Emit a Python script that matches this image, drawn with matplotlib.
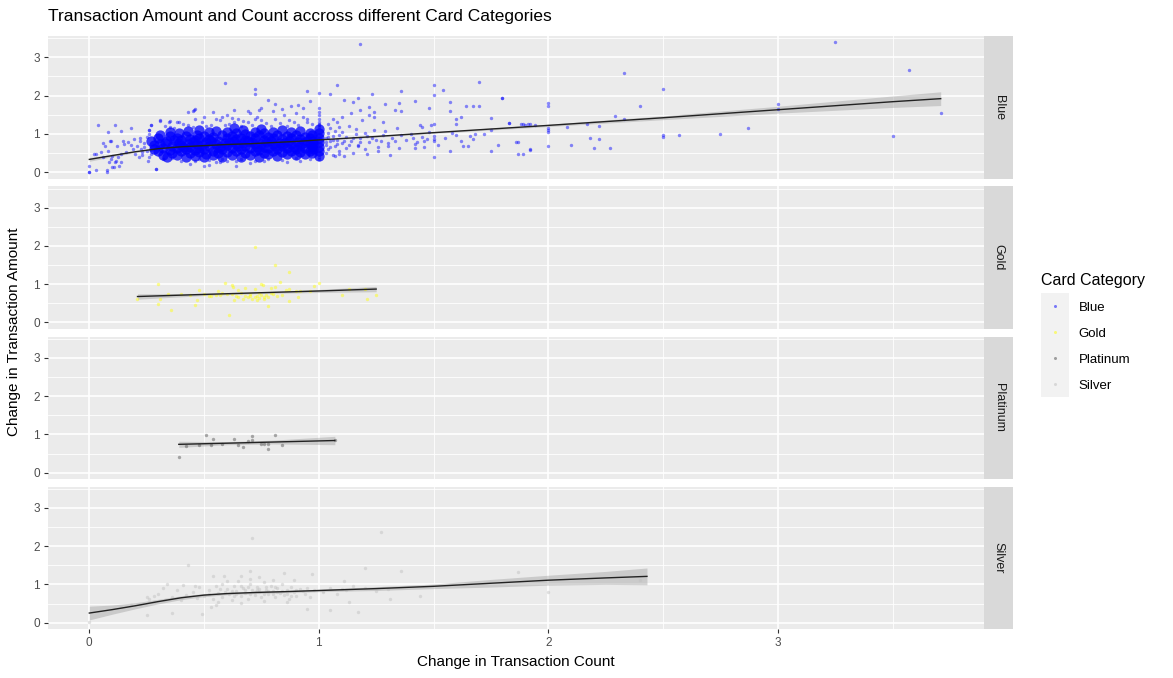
import matplotlib
matplotlib.use("Agg")
import matplotlib.pyplot as plt
from matplotlib.lines import Line2D
from matplotlib.patches import Rectangle
import numpy as np

plt.rcParams['font.family'] = ['Liberation Sans', 'DejaVu Sans']

categories = ['Blue', 'Gold', 'Platinum', 'Silver']

# dense middle of the Blue cloud (drawn with bigger, stronger markers)
blue_core = [
    (0.30, 0.55), (0.31, 0.72), (0.30, 0.88), (0.32, 0.45), (0.31, 0.98), (0.32, 0.63),
    (0.34, 0.40), (0.35, 0.58), (0.34, 0.80), (0.35, 0.95), (0.36, 0.68), (0.35, 1.05), (0.36, 0.50),
    (0.38, 0.44), (0.38, 0.62), (0.39, 0.76), (0.38, 0.90), (0.39, 1.02), (0.40, 0.54), (0.40, 0.85), (0.40, 0.70),
    (0.42, 0.40), (0.42, 0.60), (0.43, 0.74), (0.42, 0.95), (0.43, 1.07), (0.44, 0.50), (0.44, 0.86), (0.44, 0.66),
    (0.46, 0.42), (0.46, 0.58), (0.47, 0.72), (0.46, 0.84), (0.47, 0.98), (0.48, 0.64), (0.48, 0.52), (0.48, 0.90), (0.48, 1.10),
    (0.50, 0.38), (0.50, 0.60), (0.51, 0.78), (0.50, 0.94), (0.51, 0.48), (0.52, 0.68), (0.52, 0.86), (0.52, 1.04),
    (0.54, 0.44), (0.54, 0.56), (0.55, 0.74), (0.54, 0.92), (0.55, 1.08), (0.56, 0.64), (0.56, 0.82), (0.56, 0.50),
    (0.58, 0.40), (0.58, 0.60), (0.59, 0.76), (0.58, 0.98), (0.60, 0.52), (0.60, 0.70), (0.60, 0.88), (0.60, 1.06),
    (0.62, 0.44), (0.62, 0.62), (0.63, 0.80), (0.62, 0.94), (0.64, 0.56), (0.64, 0.72), (0.64, 1.02), (0.64, 0.86), (0.63, 1.14),
    (0.66, 0.40), (0.66, 0.60), (0.67, 0.76), (0.66, 0.90), (0.68, 0.50), (0.68, 0.68), (0.68, 0.84), (0.68, 1.00), (0.67, 1.10),
    (0.70, 0.44), (0.70, 0.62), (0.71, 0.78), (0.70, 0.94), (0.72, 0.54), (0.72, 0.72), (0.72, 0.88), (0.72, 1.06),
    (0.74, 0.40), (0.74, 0.58), (0.75, 0.74), (0.74, 0.96), (0.76, 0.50), (0.76, 0.66), (0.76, 0.84), (0.76, 1.02), (0.75, 1.12),
    (0.78, 0.46), (0.78, 0.62), (0.79, 0.80), (0.78, 0.92), (0.80, 0.56), (0.80, 0.72), (0.80, 0.88), (0.80, 1.06),
    (0.82, 0.42), (0.82, 0.60), (0.83, 0.76), (0.82, 0.98), (0.84, 0.52), (0.84, 0.68), (0.84, 0.86), (0.84, 1.10),
    (0.86, 0.48), (0.86, 0.64), (0.87, 0.80), (0.86, 0.94), (0.88, 0.56), (0.88, 0.72), (0.88, 0.90), (0.88, 1.04),
    (0.90, 0.44), (0.90, 0.60), (0.91, 0.78), (0.90, 0.96), (0.92, 0.52), (0.92, 0.68), (0.92, 0.86), (0.92, 1.08),
    (0.94, 0.48), (0.94, 0.64), (0.95, 0.80), (0.94, 0.92), (0.96, 0.56), (0.96, 0.72), (0.96, 0.88), (0.96, 1.02),
    (0.97, 0.50), (0.97, 0.66), (0.975, 0.82), (0.97, 0.96), (0.975, 0.74), (0.975, 0.60),
    (1.00, 0.42), (1.00, 0.54), (1.00, 0.66), (1.00, 0.78), (1.00, 0.90), (1.00, 1.02), (1.00, 1.12),
    (0.33, 0.75), (0.37, 0.85), (0.41, 0.65), (0.45, 0.78), (0.49, 0.70), (0.53, 0.80), (0.57, 0.66),
    (0.61, 0.78), (0.65, 0.68), (0.69, 0.80), (0.73, 0.66), (0.77, 0.78), (0.81, 0.68), (0.85, 0.76),
    (0.89, 0.66), (0.93, 0.76), (0.28, 0.70), (0.27, 0.82), (0.28, 0.60),
]

# everything else in Blue
blue_rest = [
    # top and bottom fringe of the cloud
    (0.33, 1.20), (0.37, 1.15), (0.41, 1.25), (0.45, 1.18), (0.49, 1.30), (0.53, 1.22), (0.57, 1.35),
    (0.61, 1.26), (0.65, 1.40), (0.69, 1.30), (0.73, 1.45), (0.77, 1.28), (0.81, 1.38), (0.85, 1.50),
    (0.89, 1.32), (0.93, 1.44), (0.97, 1.25), (0.50, 1.45), (0.60, 1.50), (0.70, 1.55), (0.80, 1.60),
    (0.90, 1.55), (0.55, 1.40), (0.75, 1.35), (0.95, 1.40), (0.38, 1.30), (0.46, 1.38), (0.66, 1.20),
    (0.86, 1.20), (0.62, 1.42), (0.84, 1.64), (0.74, 1.62), (0.93, 1.68),
    (0.35, 1.18), (0.43, 1.22), (0.51, 1.20), (0.59, 1.24), (0.63, 1.30), (0.67, 1.33), (0.71, 1.22),
    (0.79, 1.20), (0.83, 1.28), (0.87, 1.35), (0.91, 1.22), (0.95, 1.30), (0.72, 1.38), (0.58, 1.45),
    (0.32, 0.33), (0.40, 0.30), (0.46, 0.28), (0.52, 0.32), (0.60, 0.30), (0.66, 0.33), (0.72, 0.30),
    (0.78, 0.34), (0.84, 0.32), (0.90, 0.36), (0.96, 0.34), (0.44, 0.22), (0.70, 0.24), (0.55, 0.25),
    (0.86, 0.27), (0.36, 0.36), (0.48, 0.34), (0.58, 0.35), (0.64, 0.28), (0.76, 0.29), (0.92, 0.30),
    # column at 1.0
    (1.00, 0.34), (1.00, 1.22), (1.00, 1.30), (1.00, 1.38), (1.00, 1.48), (1.00, 1.58), (1.00, 1.68),
    (1.00, 2.07), (1.00, 1.18), (1.00, 1.26), (1.00, 0.38),
    # just right of 1.0
    (1.03, 0.50), (1.03, 0.70), (1.03, 0.88), (1.04, 1.02), (1.04, 0.60), (1.05, 0.80), (1.05, 1.15),
    (1.06, 0.45), (1.06, 0.95), (1.07, 0.68), (1.08, 0.85), (1.08, 1.30), (1.09, 0.55), (1.10, 1.05),
    (1.10, 0.75), (1.12, 0.92), (1.12, 0.62), (1.13, 1.20), (1.14, 0.80), (1.15, 0.50), (1.16, 1.00),
    (1.17, 0.70), (1.18, 0.88), (1.19, 1.35), (1.20, 0.60), (1.21, 0.95), (1.22, 0.78), (1.24, 1.10),
    (1.25, 0.85), (1.26, 0.55), (1.28, 0.98), (1.30, 0.75), (1.32, 0.90), (1.34, 1.15), (1.35, 0.62),
    (1.38, 0.85), (1.40, 1.00), (1.43, 0.78), (1.45, 0.92), (1.48, 1.05), (1.50, 0.80), (1.50, 0.95),
    (1.52, 0.70), (1.55, 0.88), (1.58, 1.02), (1.62, 0.82), (1.66, 0.95), (1.10, 1.45), (1.14, 1.55),
    (1.06, 1.38), (1.22, 1.50), (1.28, 1.30), (1.04, 1.25), (1.09, 1.18),
    (1.03, 0.78), (1.04, 0.92), (1.05, 0.65), (1.06, 0.85), (1.07, 1.08), (1.08, 0.72), (1.09, 0.96),
    (1.11, 0.82), (1.13, 0.70), (1.15, 0.88), (1.16, 1.12), (1.18, 0.78), (1.20, 1.02), (1.23, 0.90),
    (1.27, 0.80), (1.29, 1.08), (1.33, 0.80), (1.36, 0.98), (1.41, 0.88), (1.46, 0.80),
    # scattered points
    (1.18, 3.35), (0.59, 2.32), (0.72, 2.18), (0.72, 2.04), (1.08, 2.29), (0.95, 2.11), (1.05, 2.05),
    (1.23, 2.05), (1.50, 2.27), (1.54, 2.14), (1.70, 2.36), (1.36, 2.12), (1.80, 1.93), (1.11, 1.89),
    (1.15, 1.84), (1.17, 1.93), (1.29, 1.77), (1.35, 1.81), (1.42, 1.86), (1.50, 2.01), (1.57, 1.83),
    (1.57, 1.60), (1.64, 1.72), (1.67, 1.74), (1.70, 1.72), (1.48, 1.68), (1.33, 1.63), (1.36, 1.60),
    (1.24, 1.58), (1.24, 1.44), (1.22, 1.70), (1.18, 1.61), (0.78, 1.88), (0.81, 1.77), (0.96, 1.86),
    (0.88, 1.73), (0.91, 1.75), (0.46, 1.64), (0.45, 1.60), (0.54, 1.57), (0.63, 1.63), (0.69, 1.60),
    (0.75, 1.67), (0.31, 1.35), (0.35, 1.33), (0.39, 1.32), (0.04, 1.22), (0.11, 1.24), (0.18, 1.16),
    (0.08, 1.04), (0.14, 1.07), (0.27, 1.23), (0.26, 1.11), (1.75, 1.42), (1.83, 1.28), (1.88, 1.26),
    (1.91, 1.25), (1.60, 1.39), (1.62, 1.44), (1.60, 1.26), (1.44, 1.22), (1.45, 1.18), (1.49, 1.22),
    (1.50, 1.26), (1.60, 0.96), (1.67, 0.87), (1.75, 1.09), (1.72, 1.00), (1.68, 1.00), (1.57, 0.54),
    (1.63, 0.67), (1.65, 0.69), (1.75, 0.56), (1.78, 0.71), (1.50, 0.39), (1.47, 0.87), (1.50, 0.87),
    (1.46, 0.65), (1.42, 0.72), (1.42, 0.63), (1.86, 0.78), (1.87, 0.47), (1.92, 0.59), (1.31, 0.44),
    (1.26, 0.65), (1.30, 0.69), (1.21, 0.47), (1.17, 0.69), (1.07, 0.43), (1.09, 0.47), (1.11, 0.43),
    (0.50, 0.17), (0.52, 0.19), (0.57, 0.25), (0.64, 0.17), (0.29, 0.08),
    (0.00, 0.00), (0.00, 0.01), (0.00, 0.16), (0.03, 0.05), (0.077, 0.01), (0.077, 0.06), (0.10, 0.12),
    (0.13, 0.17), (0.094, 0.34), (0.087, 0.25), (0.06, 0.40), (0.03, 0.46), (0.05, 0.52), (0.07, 0.69),
    (0.09, 0.82), (0.12, 0.69), (0.145, 0.82), (0.17, 0.78), (0.195, 0.87), (0.058, 0.75),
    (0.095, 0.80), (0.153, 0.74), (0.022, 0.47), (0.08, 0.54), (0.10, 0.43), (0.124, 0.39),
    (0.138, 0.47), (0.16, 0.52), (0.106, 0.12), (0.11, 0.25), (0.116, 0.30), (0.138, 0.25),
    (0.20, 0.47), (0.218, 0.39), (0.225, 0.60), (0.24, 0.65), (0.254, 0.30), (0.268, 0.47),
    (0.29, 0.07), (0.268, 1.22), (0.261, 1.11), (0.31, 1.33), (0.348, 1.31), (0.43, 1.56), (0.455, 1.62),
    (0.22, 0.80), (0.25, 0.92), (0.28, 0.70), (0.27, 0.58), (0.23, 0.52), (0.26, 0.40), (0.21, 0.68),
    (0.24, 0.75), (0.25, 0.55), (0.22, 0.90), (0.26, 1.00), (0.19, 0.60), (0.18, 0.70), (0.23, 0.44),
    # far right
    (3.25, 3.39), (3.57, 2.67), (3.71, 1.54), (3.50, 0.93), (3.00, 1.77), (3.00, 1.66), (2.87, 1.16),
    (2.75, 1.00), (2.57, 0.98), (2.50, 2.17), (2.50, 0.97), (2.50, 0.91), (2.40, 1.72), (2.33, 2.60),
    (2.33, 1.40), (2.29, 1.46), (2.27, 0.62), (2.22, 1.21), (2.22, 0.86), (2.20, 0.64), (2.18, 0.88),
    (2.17, 1.25), (2.10, 0.70), (2.08, 1.18), (2.00, 1.80), (2.00, 1.73), (2.00, 1.16), (2.00, 1.11),
    (2.00, 1.05), (2.00, 0.67), (1.92, 0.58), (1.89, 0.48), (1.87, 0.79), (1.83, 1.27), (1.89, 1.25),
    (1.90, 1.23), (1.92, 1.25), (1.94, 1.23), (1.80, 1.94),
]

gold_points = [
    (0.72, 1.96), (0.81, 1.49), (0.87, 1.31), (0.30, 1.01), (0.59, 1.04), (0.62, 0.98), (0.625, 0.93),
    (0.75, 1.00), (0.755, 0.98), (0.83, 1.06), (1.00, 1.04), (0.98, 0.95), (0.81, 0.93), (0.79, 0.89),
    (0.48, 0.85), (0.68, 0.90), (0.65, 0.84), (0.72, 0.87), (0.56, 0.81), (0.855, 0.84), (0.87, 0.86),
    (0.90, 0.82), (0.92, 0.82), (0.96, 0.82), (1.13, 0.87), (1.20, 0.86), (0.345, 0.74), (0.31, 0.62),
    (0.47, 0.59), (0.53, 0.68), (0.57, 0.71), (0.60, 0.74), (0.65, 0.65), (0.68, 0.69), (0.70, 0.74),
    (0.73, 0.69), (0.74, 0.63), (0.76, 0.67), (0.76, 0.61), (0.78, 0.65), (0.78, 0.43), (0.80, 0.74),
    (0.82, 0.69), (0.84, 0.71), (0.87, 0.56), (0.91, 0.65), (1.10, 0.71), (1.21, 0.61), (1.25, 0.71),
    (0.21, 0.60), (0.30, 0.49), (0.355, 0.32), (0.46, 0.46), (0.61, 0.18), (0.63, 0.59), (0.50, 0.74),
    (0.52, 0.69), (0.69, 0.65), (0.74, 0.76), (0.71, 0.62), (0.66, 0.78), (0.77, 0.72), (0.64, 0.70),
    (0.58, 0.76), (0.44, 0.72), (0.40, 0.74), (0.70, 0.70), (0.72, 0.66), (0.75, 0.72), (0.67, 0.62),
    (0.73, 0.58), (0.79, 0.78), (0.62, 0.74), (0.55, 0.72),
]

platinum_points = [
    (0.39, 0.42), (0.42, 0.70), (0.48, 0.73), (0.51, 0.98), (0.53, 0.73), (0.54, 0.88), (0.58, 0.76),
    (0.63, 0.88), (0.65, 0.71), (0.67, 0.66), (0.69, 0.82), (0.71, 0.85), (0.71, 0.97), (0.75, 0.75),
    (0.76, 0.76), (0.78, 0.75), (0.78, 0.63), (0.81, 0.98), (0.84, 0.73), (1.07, 0.86),
]

silver_points = [
    (0.50, 0.70), (0.52, 0.85), (0.54, 0.62), (0.55, 0.95), (0.56, 0.78), (0.58, 0.68), (0.58, 1.02),
    (0.60, 0.88), (0.61, 0.74), (0.62, 0.60), (0.63, 0.95), (0.64, 0.82), (0.65, 1.08), (0.66, 0.70),
    (0.67, 0.90), (0.68, 0.78), (0.69, 0.62), (0.70, 1.00), (0.71, 0.85), (0.72, 0.72), (0.73, 0.92),
    (0.74, 0.80), (0.75, 0.66), (0.76, 1.05), (0.77, 0.86), (0.78, 0.74), (0.79, 0.95), (0.80, 0.82),
    (0.81, 0.68), (0.82, 0.90), (0.83, 0.78), (0.84, 1.00), (0.85, 0.72), (0.86, 0.86), (0.87, 0.62),
    (0.88, 0.94), (0.89, 0.80), (0.90, 0.70), (0.92, 0.88), (0.94, 0.76), (0.96, 0.66), (0.98, 0.85),
    (0.45, 0.80), (0.47, 0.65), (0.48, 0.92), (0.42, 0.72), (0.40, 0.60), (0.38, 0.85), (0.36, 0.68),
    (0.33, 0.58), (0.30, 0.75), (0.28, 0.55), (0.26, 0.62), (0.22, 0.50), (0.18, 0.45), (0.14, 0.40),
    (0.56, 0.55), (0.66, 0.52), (0.76, 0.56), (0.86, 0.55), (0.60, 1.10), (0.70, 1.15), (0.80, 1.12),
    (0.74, 1.20), (1.02, 0.80), (1.05, 0.90), (1.08, 0.76), (1.12, 0.85), (1.15, 0.95), (1.25, 0.82),
    (1.30, 0.88), (0.71, 2.21), (1.27, 2.37), (0.43, 1.50), (1.20, 1.44), (1.36, 1.34), (1.87, 1.32),
    (0.85, 1.30), (0.97, 1.26), (0.70, 1.34), (0.34, 1.02), (0.41, 0.99), (0.46, 0.97), (0.25, 0.67),
    (0.28, 0.69), (0.32, 0.91), (0.36, 0.25), (0.25, 0.20), (0.49, 0.23), (0.53, 0.42), (0.55, 0.47),
    (0.95, 0.36), (1.05, 0.32), (1.17, 0.29), (1.31, 0.62), (1.44, 0.70), (1.11, 1.08), (2.00, 0.80),
    (2.40, 1.11), (1.10, 0.87), (1.02, 0.84), (1.20, 0.91), (1.13, 0.54), (0.54, 1.22), (0.585, 1.23),
    (0.66, 1.21), (0.89, 1.11), (0.00, 0.02),
    (0.52, 0.76), (0.57, 0.88), (0.59, 0.80), (0.62, 0.84), (0.64, 0.74), (0.66, 0.96), (0.68, 0.86),
    (0.70, 0.76), (0.72, 0.80), (0.74, 0.88), (0.76, 0.74), (0.78, 0.84), (0.80, 0.76), (0.82, 0.80),
    (0.84, 0.84), (0.86, 0.76), (0.88, 0.70), (0.90, 0.86), (0.93, 0.82), (0.95, 0.90), (0.63, 0.70),
    (0.69, 0.94), (0.73, 0.86), (0.77, 0.94), (0.81, 0.92),
]

# smoothed trend (loess): x, fit, half width of band
smooth = {
    'Blue': ([0, 0.1, 0.2, 0.3, 0.4, 0.5, 0.6, 0.7, 0.8, 0.9, 1.0, 1.25, 1.5, 2.0, 2.5, 3.0, 3.5, 3.71],
             [0.33, 0.43, 0.53, 0.61, 0.66, 0.69, 0.72, 0.74, 0.77, 0.80, 0.84, 0.93, 1.03, 1.22, 1.42, 1.63, 1.84, 1.92],
             [0.05, 0.03, 0.02, 0.01, 0.01, 0.01, 0.01, 0.01, 0.01, 0.01, 0.01, 0.02, 0.02, 0.03, 0.05, 0.09, 0.15, 0.18]),
    'Gold': ([0.21, 0.5, 0.75, 1.0, 1.25],
             [0.675, 0.73, 0.775, 0.82, 0.87],
             [0.07, 0.03, 0.02, 0.04, 0.07]),
    'Platinum': ([0.39, 0.6, 0.8, 1.07],
                 [0.74, 0.77, 0.80, 0.84],
                 [0.08, 0.04, 0.05, 0.11]),
    'Silver': ([0, 0.1, 0.2, 0.3, 0.4, 0.5, 0.6, 0.73, 0.85, 1.0, 1.25, 1.5, 1.75, 2.0, 2.25, 2.43],
               [0.25, 0.34, 0.44, 0.55, 0.65, 0.72, 0.76, 0.79, 0.81, 0.84, 0.89, 0.95, 1.03, 1.11, 1.17, 1.21],
               [0.18, 0.12, 0.08, 0.06, 0.05, 0.04, 0.03, 0.03, 0.03, 0.03, 0.05, 0.06, 0.10, 0.13, 0.17, 0.22]),
}

point_colors = {'Blue': '#0000FF', 'Gold': '#FFFF00', 'Platinum': '#4D4D4D', 'Silver': '#BEBEBE'}

W, H = 1173, 678
fig = plt.figure(figsize=(W / 100, H / 100), dpi=100)

panel_left, panel_right = 48, 984.3
panel_tops = [36, 186.3, 336.6, 486.6]
panel_h = 142.5
strip_w = 28.7

def fig_rect(x0, y0, w, h):
    return [x0 / W, 1 - (y0 + h) / H, w / W, h / H]

points = {
    'Blue': blue_rest,
    'Gold': gold_points,
    'Platinum': platinum_points,
    'Silver': silver_points,
}

for i, cat in enumerate(categories):
    ax = fig.add_axes(fig_rect(panel_left, panel_tops[i], panel_right - panel_left, panel_h))
    ax.set_facecolor('#EBEBEB')
    for s in ax.spines.values():
        s.set_visible(False)
    ax.set_xlim(-0.18, 3.9)
    ax.set_ylim(-0.17, 3.56)
    ax.set_xticks([0, 1, 2, 3])
    ax.set_yticks([0, 1, 2, 3])
    ax.set_xticks([0.5, 1.5, 2.5, 3.5], minor=True)
    ax.set_yticks([0.5, 1.5, 2.5, 3.5], minor=True)
    ax.grid(which='major', color='white', lw=1.2)
    ax.grid(which='minor', color='white', lw=0.6)
    ax.set_axisbelow(True)
    ax.tick_params(which='minor', length=0)
    ax.tick_params(axis='y', which='major', length=3, width=0.8, color='#333333',
                   labelsize=8.5, labelcolor='#4D4D4D', pad=3)
    if i == 3:
        ax.tick_params(axis='x', which='major', length=3, width=0.8, color='#333333',
                       labelsize=8.5, labelcolor='#4D4D4D', pad=3)
    else:
        ax.tick_params(axis='x', which='major', length=0, labelbottom=False)

    sx, sy, band = smooth[cat]
    sx = np.array(sx); sy = np.array(sy); band = np.array(band)
    ax.fill_between(sx, sy - band, sy + band, color='#999999', alpha=0.4, lw=0, zorder=2)

    if cat == 'Blue':
        core = np.array(blue_core)
        ax.scatter(core[:, 0], core[:, 1], s=55, color=point_colors[cat], alpha=0.75, lw=0, zorder=3)
    pts = np.array(points[cat])
    ax.scatter(pts[:, 0], pts[:, 1], s=6, color=point_colors[cat], alpha=0.45, lw=0, zorder=3)

    ax.plot(sx, sy, color='#222222', lw=1.0, zorder=4)

    # facet strip on the right
    sax = fig.add_axes(fig_rect(panel_right, panel_tops[i], strip_w, panel_h))
    sax.set_facecolor('#D9D9D9')
    sax.set_xticks([]); sax.set_yticks([])
    for s in sax.spines.values():
        s.set_visible(False)
    sax.text(0.5, 0.5, cat, rotation=-90, ha='center', va='center', fontsize=9,
             color='#1A1A1A', transform=sax.transAxes)

fig.text(panel_left / W, 1 - 17 / H, 'Transaction Amount and Count accross different Card Categories',
         fontsize=12.5, ha='left', va='center', color='black')
fig.text((panel_left + panel_right) / 2 / W, 1 - 662 / H, 'Change in Transaction Count',
         fontsize=11, ha='center', va='center')
fig.text(14 / W, 1 - 332 / H, 'Change in Transaction Amount', rotation=90,
         fontsize=11, ha='center', va='center')

# legend
fig.patches.append(Rectangle((1041 / W, 1 - 397 / H), 28 / W, 104 / H,
                             transform=fig.transFigure, facecolor='#F2F2F2', edgecolor='none'))
handles = [Line2D([], [], ls='none', marker='o', markersize=2.2, markeredgewidth=0,
                  color=point_colors[c], alpha=0.5) for c in categories]
leg = fig.legend(handles, categories, loc='upper left', bbox_to_anchor=(1030 / W, 1 - 262 / H),
                 frameon=False, title='Card Category', fontsize=9.5, title_fontsize=11.5,
                 handlelength=2.2, handletextpad=0.7, labelspacing=1.05, borderpad=0.3)
leg._legend_box.align = 'left'

fig.savefig('out.png', dpi=100)
